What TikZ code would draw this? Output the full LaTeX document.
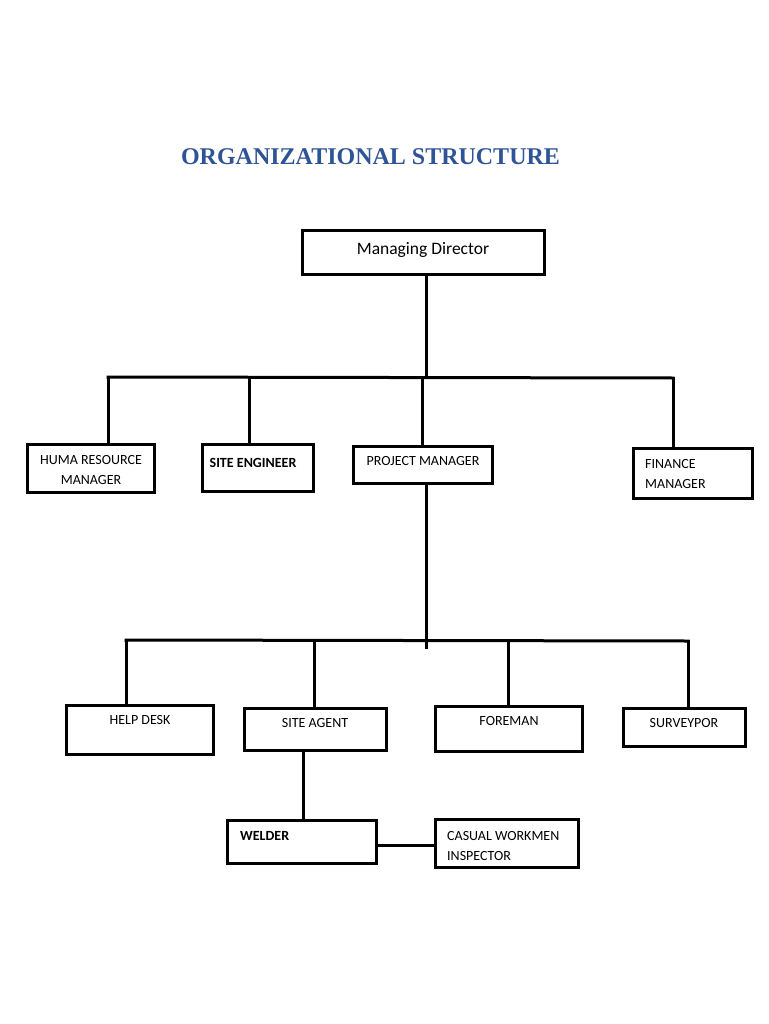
\documentclass[tikz,border=0pt]{standalone}
\usepackage{fontspec}
\setmainfont{Carlito}
\newfontfamily\titlefont{Liberation Serif}
\definecolor{titleblue}{RGB}{47,84,150}
\begin{document}
\begin{tikzpicture}[x=1pt,y=-1pt,
  box/.style={draw=black, line width=3pt, fill=none, inner sep=0pt},
  lbl/.style={inner sep=0pt, font=\fontsize{14}{20}\selectfont},
  conn/.style={line width=3pt, line cap=rect}]
\path[use as bounding box, fill=white] (0,0) rectangle (768,1024);

\node[inner sep=0pt, text=titleblue, font=\titlefont\bfseries\fontsize{24}{28}\selectfont] (title) at (370.5,157) {ORGANIZATIONAL STRUCTURE};

% boxes
\node[box, minimum width=242pt, minimum height=43pt] (md) at (423,252.5) {};
\node[box, minimum width=127pt, minimum height=48pt] (hr) at (90.5,468) {};
\node[box, minimum width=111pt, minimum height=47pt] (se) at (257.5,467.5) {};
\node[box, minimum width=139pt, minimum height=37pt] (pm) at (422.5,464.5) {};
\node[box, minimum width=119pt, minimum height=50pt] (fm) at (692.5,473) {};
\node[box, minimum width=147pt, minimum height=49pt] (hd) at (139.5,729.5) {};
\node[box, minimum width=142pt, minimum height=42pt] (sa) at (315,729) {};
\node[box, minimum width=147pt, minimum height=45pt] (fo) at (508.5,728.5) {};
\node[box, minimum width=122pt, minimum height=38pt] (su) at (684,727) {};
\node[box, minimum width=149pt, minimum height=43pt] (we) at (301.5,841.5) {};
\node[box, minimum width=143pt, minimum height=48pt] (cw) at (506.5,843) {};

% labels
\node[lbl, font=\fontsize{17.5}{20}\selectfont] (mdt) at (423,250) {Managing Director};
\node[lbl, align=center] (hrt) at (91,470) {HUMA RESOURCE\\MANAGER};
\node[lbl, font=\bfseries\fontsize{14}{20}\selectfont] (set) at (253,463) {SITE ENGINEER};
\node[lbl] (pmt) at (423,461) {PROJECT MANAGER};
\node[lbl, align=left, anchor=west] (fmt) at (645,474) {FINANCE\\MANAGER};
\node[lbl] (hdt) at (140,720) {HELP DESK};
\node[lbl] (sat) at (315,723) {SITE AGENT};
\node[lbl] (fot) at (509,721) {FOREMAN};
\node[lbl] (sut) at (684,723) {SURVEYPOR};
\node[lbl, font=\bfseries\fontsize{14}{20}\selectfont, anchor=west] (wet) at (240,836) {WELDER};
\node[lbl, align=left, anchor=west] (cwt) at (447,845.5) {CASUAL WORKMEN\\INSPECTOR};

% junction coordinates
\coordinate (j1) at (426,377);
\coordinate (b1L) at (108,377);
\coordinate (b1R) at (673,378);
\coordinate (j2) at (426,640);
\coordinate (b2L) at (126,640);
\coordinate (b2R) at (688,641);

% connectors
\draw[conn] (md.south -| j1) -- (j1);
\draw[conn] (b1L) -- (b1R);
\draw[conn] (b1L) -- (b1L |- hr.north);
\draw[conn] (249,377) -- (se.north -| 249,0);
\draw[conn] (422,377) -- (pm.north -| 422,0);
\draw[conn] (b1R) -- (b1R |- fm.north);
\draw[conn] (pm.south -| j2) -- (426,647);
\draw[conn] (b2L) -- (b2R);
\draw[conn] (b2L) -- (b2L |- hd.north);
\draw[conn] (314,640) -- (sa.north -| 314,0);
\draw[conn] (508,641) -- (fo.north -| 508,0);
\draw[conn] (b2R) -- (b2R |- su.north);
\draw[conn] (sa.south -| 303,0) -- (we.north -| 303,0);
\draw[conn] (we.east |- 0,845) -- (cw.west |- 0,845);
\end{tikzpicture}
\end{document}
